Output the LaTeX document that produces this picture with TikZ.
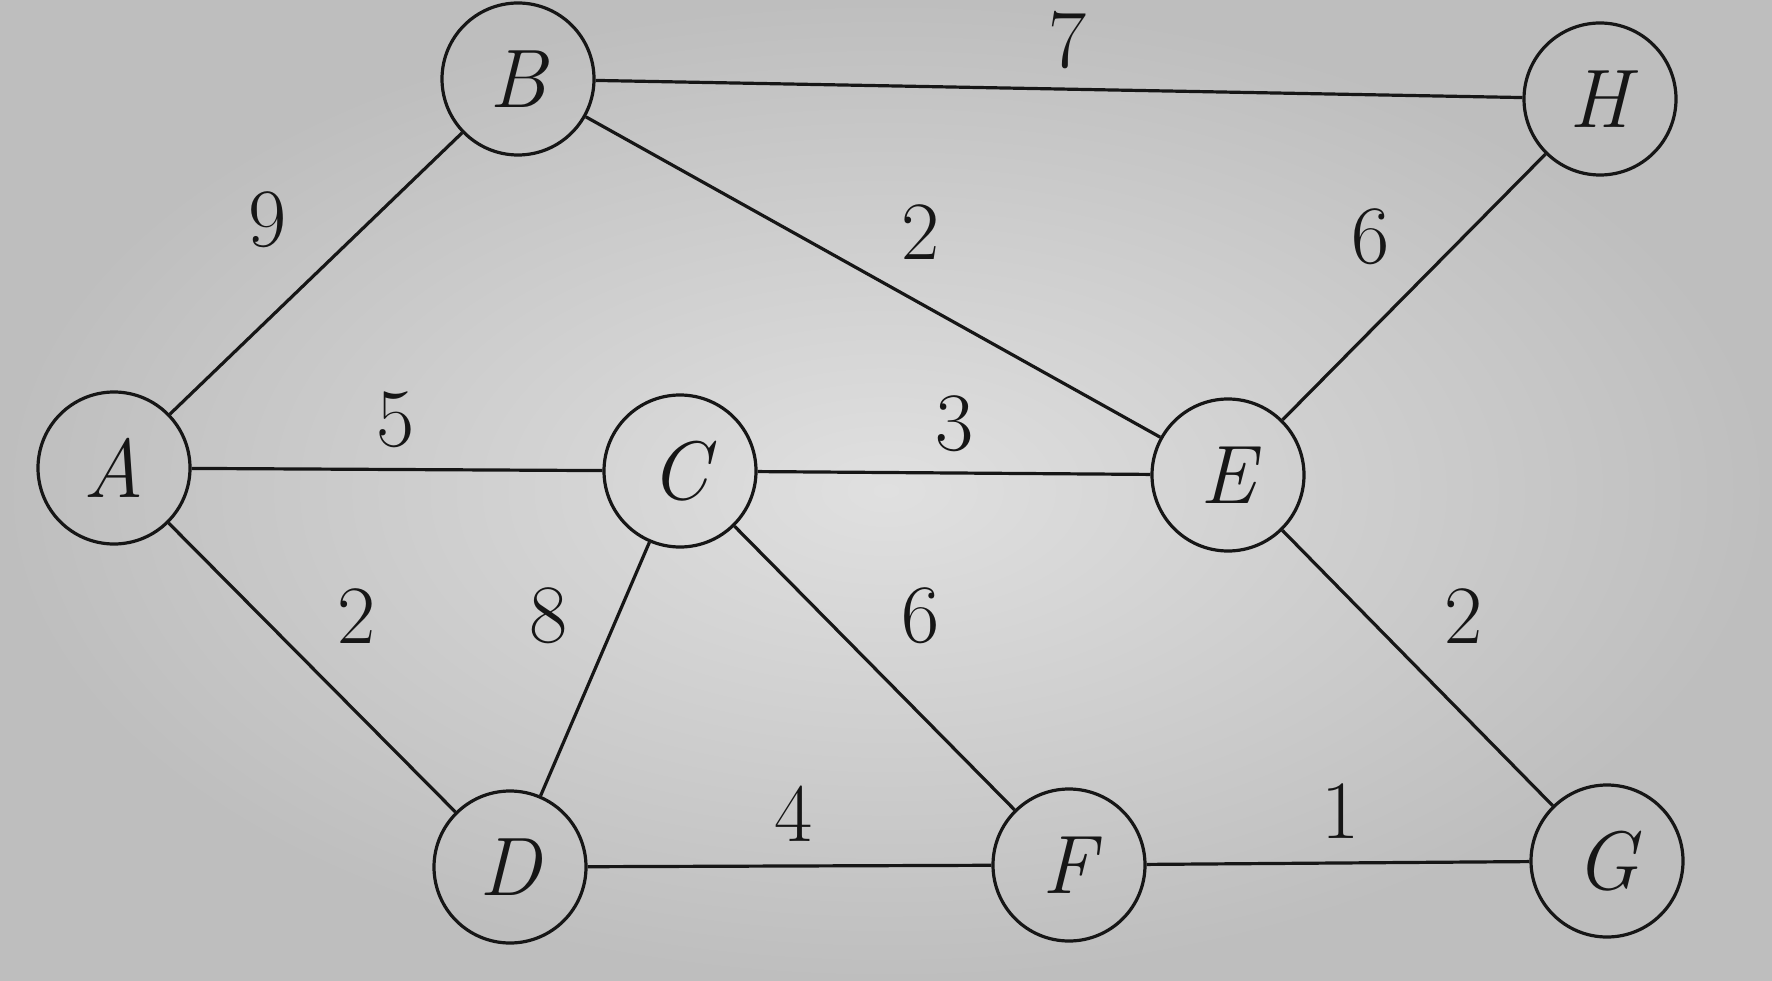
\documentclass[tikz,border=0pt]{standalone}
\usetikzlibrary{shadings}
\definecolor{bgin}{RGB}{224,224,224}
\definecolor{bgout}{RGB}{190,190,190}
\definecolor{ink}{RGB}{22,22,22}
\begin{document}
\begin{tikzpicture}[x=1pt,y=-1pt,
  vertex/.style={circle,draw=ink,line width=3.2pt,minimum size=152pt,inner sep=0pt,font=\fontsize{83}{90}\selectfont\itshape,text=ink},
  wlabel/.style={font=\fontsize{83}{90}\selectfont,text=ink,inner sep=0pt},
  edge/.style={draw=ink,line width=3.2pt}]
\useasboundingbox (0,0) rectangle (1772,981);
\shade[inner color=bgin,outer color=bgout] (0,0) rectangle (1772,981);
\node[vertex] (A) at (114,468) {A};
\node[vertex] (B) at (518,79) {B};
\node[vertex] (C) at (680,471) {C};
\node[vertex] (D) at (510,867) {D};
\node[vertex] (E) at (1228,475) {E};
\node[vertex] (F) at (1069,865) {F};
\node[vertex] (G) at (1607,861) {G};
\node[vertex] (H) at (1600,99) {H};
\draw[edge] (A) -- (B);
\draw[edge] (A) -- (C);
\draw[edge] (A) -- (D);
\draw[edge] (B) -- (H);
\draw[edge] (B) -- (E);
\draw[edge] (C) -- (E);
\draw[edge] (C) -- (D);
\draw[edge] (C) -- (F);
\draw[edge] (E) -- (H);
\draw[edge] (E) -- (G);
\draw[edge] (D) -- (F);
\draw[edge] (F) -- (G);
\node[wlabel] (l9) at (268,220) {9};
\node[wlabel] (l7) at (1068,40) {7};
\node[wlabel] (lBE) at (921,232) {2};
\node[wlabel] (lEH) at (1371,237) {6};
\node[wlabel] (l5) at (396,420) {5};
\node[wlabel] (l3) at (955,424) {3};
\node[wlabel] (lAD) at (357,616) {2};
\node[wlabel] (l8) at (549,616) {8};
\node[wlabel] (lCF) at (921,616) {6};
\node[wlabel] (lEG) at (1464,616) {2};
\node[wlabel] (l4) at (794,814) {4};
\node[wlabel] (l1) at (1341,811) {1};
\end{tikzpicture}
\end{document}
